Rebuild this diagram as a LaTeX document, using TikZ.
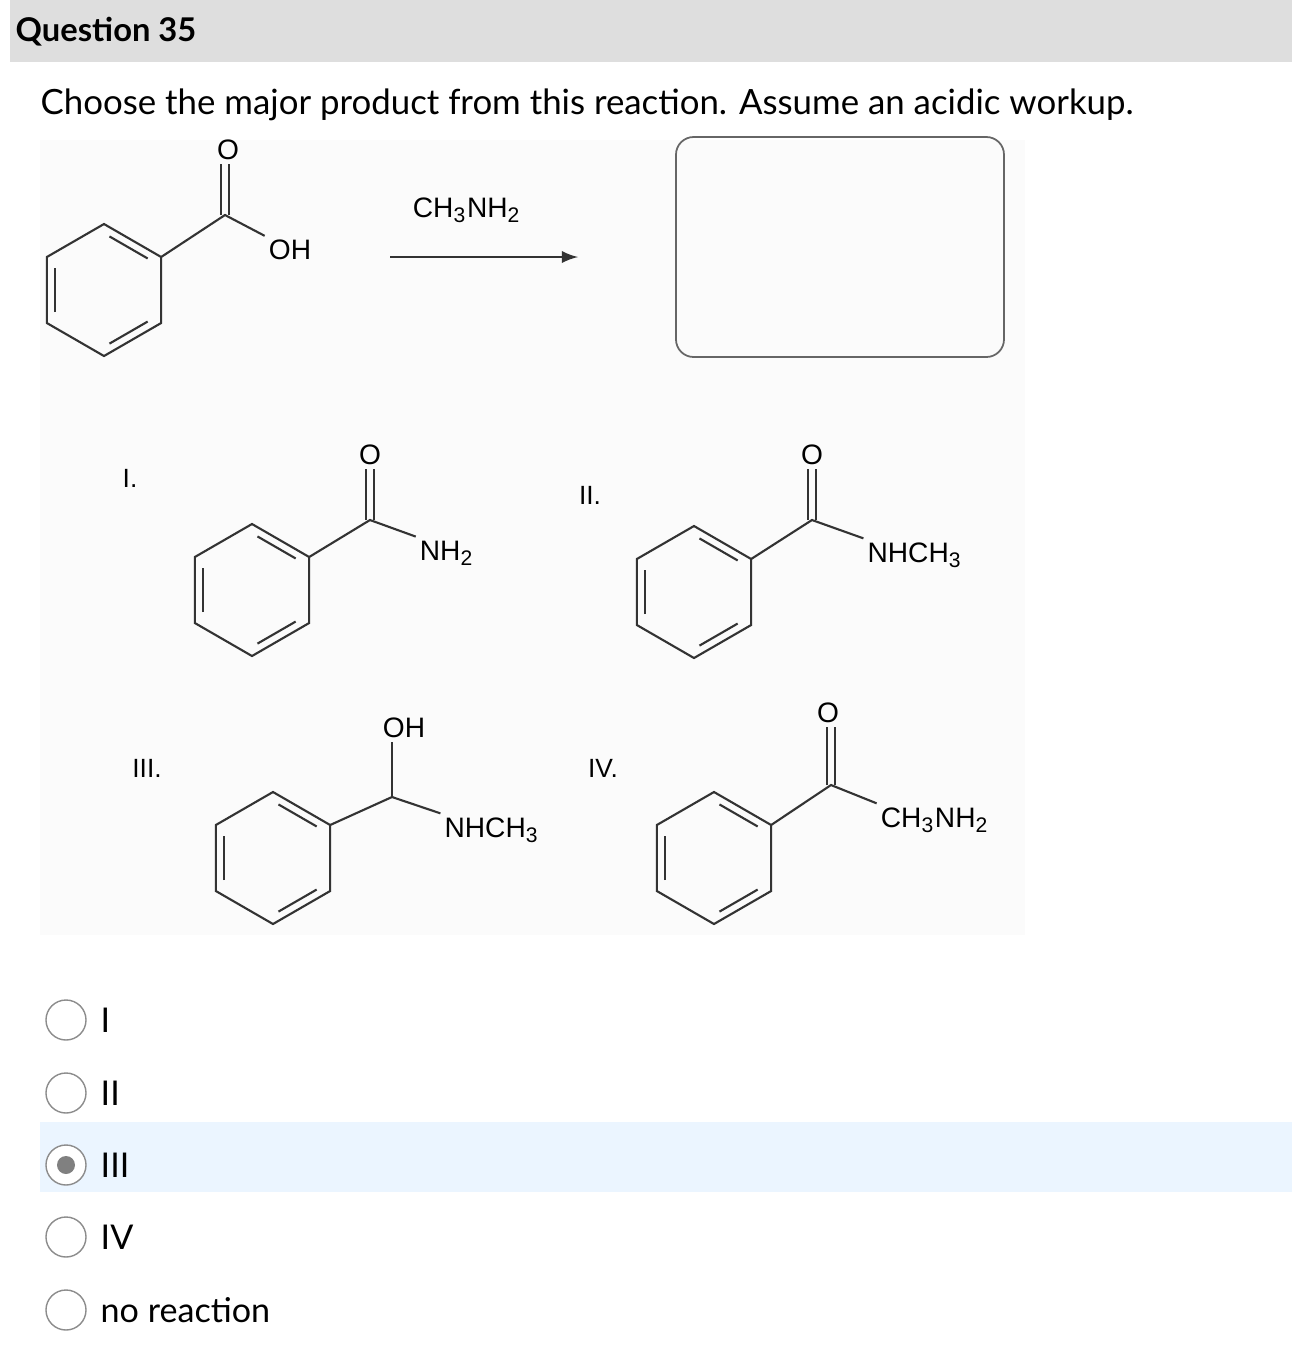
\documentclass[tikz,border=0pt]{standalone}
\usepackage{fontspec}
\setmainfont{Lato}
\newfontfamily\chemf{Liberation Sans}
\usetikzlibrary{calc}
\newcommand\sbs[1]{\textsubscript{#1}}
\tikzset{bond/.style={line width=0.6pt,black!80},
 chem/.style={font=\chemf\fontsize{8}{9}\selectfont,inner sep=1pt},
 radio/.style={circle,draw=black!45,line width=0.4pt,minimum size=0.40cm,inner sep=0pt},
 opt/.style={anchor=west,font=\fontsize{9.7}{11}\selectfont,inner sep=0pt},
 rlabel/.style={font=\chemf\fontsize{7.5}{9}\selectfont,inner sep=0pt}}
\newcommand\benz[3]{% cx cy name
 \coordinate (#3c) at (#1,#2);
 \foreach \k/\a in {1/-90,2/-30,3/30,4/90,5/150,6/210}{\coordinate (#3v\k) at ($(#3c)+(\a:66)$);}
 \draw[bond] (#3v1)--(#3v2)--(#3v3)--(#3v4)--(#3v5)--(#3v6)--cycle;
 \foreach \p/\q in {1/2,3/4,5/6}{\draw[bond,shorten <=1.8pt,shorten >=1.8pt] ($(#3c)!0.86!(#3v\p)$)--($(#3c)!0.86!(#3v\q)$);}
}
\begin{document}
\begin{tikzpicture}[x=0.01cm,y=-0.01cm]
\useasboundingbox (0,0) rectangle (1292,1356);
\fill[white] (0,0) rectangle (1292,1356);
\fill[black!13] (10,0) rectangle (1292,62);
\node[anchor=west,inner sep=0pt,font=\bfseries\fontsize{9.3}{11}\selectfont] (q) at (15,32) {Question 35};
\node[anchor=west,inner sep=0pt,font=\fontsize{9.9}{11}\selectfont] (t) at (40,105) {Choose the major product from this reaction. Assume an acidic workup.};
\fill[black!1.5] (40,140) rectangle (1025,935);
% reactant
\benz{104}{290}{r}
\coordinate (rC) at (225,215);
\node[chem] (rO) at (228,150) {O};
\node[chem] (rOH) at (290,250) {OH};
\draw[bond] (rv2)--(rC)--(rOH.north west);
\draw[bond] ([xshift=-1.2pt]rC)--([xshift=-1.2pt]rC|-rO.south);
\draw[bond] ([xshift=1.2pt]rC)--([xshift=1.2pt]rC|-rO.south);
\coordinate (a1) at (390,257); \coordinate (a2) at (578,257);
\draw[bond,-latex] (a1)--(a2);
\node[chem] (reag) at (467,210) {CH\sbs{3}NH\sbs{2}};
\draw[black!60,line width=0.5pt,rounded corners=5] (676,137) rectangle (1004,357);
% I
\node[rlabel] (l1) at (130,478) {I.};
\benz{252}{590}{a}
\coordinate (aC) at (370,520);
\node[chem] (aO) at (370,455) {O};
\node[chem] (aN) at (447,553) {NH\sbs{2}};
\draw[bond] (av2)--(aC)--(aN.north west);
\draw[bond] ([xshift=-1.2pt]aC)--([xshift=-1.2pt]aC|-aO.south);
\draw[bond] ([xshift=1.2pt]aC)--([xshift=1.2pt]aC|-aO.south);
% II
\node[rlabel] (l2) at (590,495) {II.};
\benz{694}{592}{b}
\coordinate (bC) at (812,520);
\node[chem] (bO) at (812,455) {O};
\node[chem] (bN) at (915,555) {NHCH\sbs{3}};
\draw[bond] (bv2)--(bC)--(bN.north west);
\draw[bond] ([xshift=-1.2pt]bC)--([xshift=-1.2pt]bC|-bO.south);
\draw[bond] ([xshift=1.2pt]bC)--([xshift=1.2pt]bC|-bO.south);
% III
\node[rlabel] (l3) at (147,768) {III.};
\benz{273}{858}{c}
\coordinate (cC) at (392,797);
\node[chem] (cO) at (404,728) {OH};
\node[chem] (cN) at (492,830) {NHCH\sbs{3}};
\draw[bond] (cv2)--(cC)--(cN.north west);
\draw[bond] (cC)--(cC|-cO.south);
% IV
\node[rlabel] (l4) at (603,768) {IV.};
\benz{714}{858}{d}
\coordinate (dC) at (831,785);
\node[chem] (dO) at (828,713) {O};
\node[chem] (dN) at (935,820) {CH\sbs{3}NH\sbs{2}};
\draw[bond] (dv2)--(dC)--(dN.north west);
\draw[bond] ([xshift=-1.2pt]dC)--([xshift=-1.2pt]dC|-dO.south);
\draw[bond] ([xshift=1.2pt]dC)--([xshift=1.2pt]dC|-dO.south);
% options
\fill[blue!50!cyan!8] (40,1122) rectangle (1292,1192);
\node[radio] (o1) at (66,1020) {}; \node[opt] (t1) at (100,1020) {I};
\node[radio] (o2) at (66,1093) {}; \node[opt] (t2) at (100,1093) {II};
\node[radio,fill=white] (o3) at (66,1165) {}; \fill[black!50] (o3) circle (9); \node[opt] (t3) at (100,1165) {III};
\node[radio] (o4) at (66,1237) {}; \node[opt] (t4) at (100,1237) {IV};
\node[radio] (o5) at (66,1310) {}; \node[opt] (t5) at (100,1310) {no reaction};
\end{tikzpicture}
\end{document}
